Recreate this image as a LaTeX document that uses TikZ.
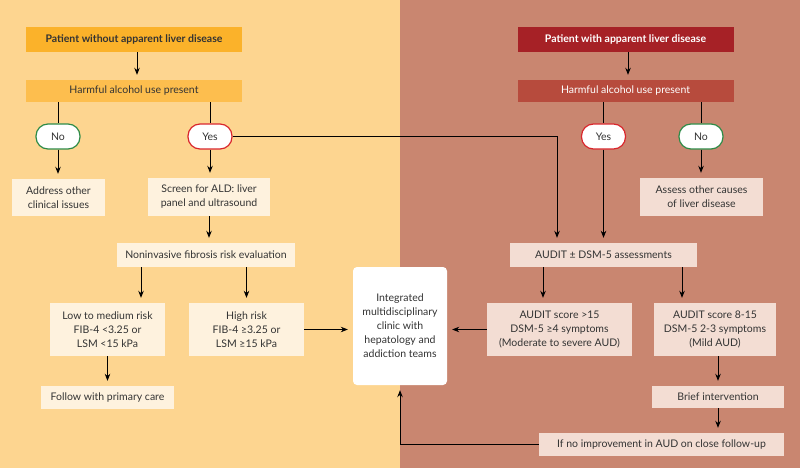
\documentclass[tikz,border=0pt]{standalone}
\usepackage{fontspec}
\setmainfont{Lato}
\usetikzlibrary{positioning,arrows.meta}

\definecolor{bgleft}{HTML}{FDD590}
\definecolor{bgright}{HTML}{C98670}
\definecolor{hdrleft}{HTML}{FBB22A}
\definecolor{harmleft}{HTML}{FDBE4E}
\definecolor{hdrright}{HTML}{A62126}
\definecolor{harmright}{HTML}{B74B3D}
\definecolor{lightleft}{HTML}{FEF2DE}
\definecolor{lightright}{HTML}{F3DDD3}
\definecolor{ink}{HTML}{333333}
\definecolor{yesred}{HTML}{D9262C}
\definecolor{nogreen}{HTML}{2E8B47}

\begin{document}
\begin{tikzpicture}[
      x=1pt, y=-1pt,                                      % pixel grid, y grows down
      every node/.style={font=\fontsize{10.5}{14}\selectfont, text=ink, align=center, inner sep=0pt},
      box/.style={fill=lightleft, minimum width=#1},      % light step box
      box/.default=120pt,
      rbox/.style={fill=lightright, minimum width=#1},     % light step box, right side
      rbox/.default=120pt,
      hdr/.style={minimum width=216pt, minimum height=25pt, font=\fontsize{10.5}{14}\selectfont\bfseries},
      harm/.style={minimum width=216pt, minimum height=22pt},
      pill/.style={draw, fill=white, line width=1.2pt, rounded corners=12pt,
                   minimum width=44pt, minimum height=25pt},
      line/.style={draw=black, line width=0.9pt},
      arr/.style={line, -{Stealth[length=7pt, width=5.5pt]}, shorten >=5pt}]

    % two halves
    \fill[bgleft] (0,0) rectangle (400,468);
    \fill[bgright] (400,0) rectangle (800,468);

    % left column: no apparent liver disease
    \node[hdr, fill=hdrleft] (topL) at (134,39.5) {Patient without apparent liver disease};
    \node[harm, fill=harmleft] (harmL) at (134,91) {Harmful alcohol use present};
    \node[pill, draw=nogreen] (noL) at (58,136.5) {No};
    \node[pill, draw=yesred] (yesL) at (210,136.5) {Yes};
    \node[box=93pt, minimum height=37pt] (addr) at (58.5,197.5) {Address other\\clinical issues};
    \node[box=122pt, minimum height=38pt] (screen) at (209,197) {Screen for ALD: liver\\panel and ultrasound};
    \node[box=178pt, minimum height=24pt] (noninv) at (206,255) {Noninvasive fibrosis risk evaluation};
    \node[box=115pt, minimum height=53pt] (low) at (107.5,329.5) {Low to medium risk\\FIB-4 <3.25 or\\LSM <15 kPa};
    \node[box=115pt, minimum height=53pt] (high) at (246.5,329.5) {High risk\\FIB-4 ≥3.25 or\\LSM ≥15 kPa};
    \node[box=133pt, minimum height=23pt] (follow) at (107.5,397.5) {Follow with primary care};

    % shared clinic
    \node[fill=white, rounded corners=4pt, minimum width=94pt, minimum height=118pt] (integ) at (400,326)
      {Integrated\\multidisciplinary\\clinic with\\hepatology and\\addiction teams};

    % right column: apparent liver disease
    \node[hdr, fill=hdrright, text=white] (topR) at (625.5,39.5) {Patient with apparent liver disease};
    \node[harm, fill=harmright, text=white] (harmR) at (625.5,91) {Harmful alcohol use present};
    \node[pill, draw=yesred] (yesR) at (603.5,136.5) {Yes};
    \node[pill, draw=nogreen] (noR) at (701,136.5) {No};
    \node[rbox=123pt, minimum height=38pt] (assess) at (701.5,197) {Assess other causes\\of liver disease};
    \node[rbox=187pt, minimum height=24pt] (audit) at (603.5,255) {AUDIT ± DSM-5 assessments};
    \node[rbox=145pt, minimum height=53pt] (mod) at (559.5,329.5) {AUDIT score >15\\DSM-5 ≥4 symptoms\\(Moderate to severe AUD)};
    \node[rbox=122pt, minimum height=53pt] (mild) at (715,329.5) {AUDIT score 8-15\\DSM-5 2-3 symptoms\\(Mild AUD)};
    \node[rbox=132pt, minimum height=22pt] (brief) at (718,397) {Brief intervention};
    \node[rbox=245pt, minimum height=23pt] (ifno) at (661.5,444.5) {If no improvement in AUD on close follow-up};
    \coordinate (xjoin) at (557,0);

    % connectors, left
    \draw[arr] ([xshift=3pt]topL.south) -- ([xshift=3pt]harmL.north);
    \draw[line] (noL.north |- harmL.south) -- (noL.north);
    \draw[line] (yesL.north |- harmL.south) -- (yesL.north);
    \draw[arr] (noL.south) -- (noL.south |- addr.north);
    \draw[arr] (yesL.south) -- (yesL.south |- screen.north);
    \draw[arr] (screen.south) -- (screen.south |- noninv.north);
    \draw[arr] ([xshift=33.5pt]low.north |- noninv.south) -- ([xshift=33.5pt]low.north);
    \draw[arr] (high.north |- noninv.south) -- (high.north);
    \draw[arr] (low.south) -- (low.south |- follow.north);
    \draw[arr] (high.east) -- (high.east -| integ.west);

    % connectors, right
    \draw[arr] (yesL.east) -- (yesL.east -| xjoin) -- (xjoin |- audit.north);
    \draw[arr] ([xshift=2.5pt]topR.south) -- ([xshift=2.5pt]harmR.north);
    \draw[line] (yesR.north |- harmR.south) -- (yesR.north);
    \draw[line] (noR.north |- harmR.south) -- (noR.north);
    \draw[arr] (yesR.south) -- (yesR.south |- audit.north);
    \draw[arr] (noR.south) -- (noR.south |- assess.north);
    \draw[arr] ([xshift=-16.5pt]mod.north |- audit.south) -- ([xshift=-16.5pt]mod.north);
    \draw[arr] ([xshift=-33pt]mild.north |- audit.south) -- ([xshift=-33pt]mild.north);
    \draw[arr] (mod.west) -- (mod.west -| integ.east);
    \draw[arr] (brief.north |- mild.south) -- (brief.north);
    \draw[arr] (brief.south) -- (brief.south |- ifno.north);
    \draw[arr] (ifno.west) -| (integ.south);
  \end{tikzpicture}
\end{document}
